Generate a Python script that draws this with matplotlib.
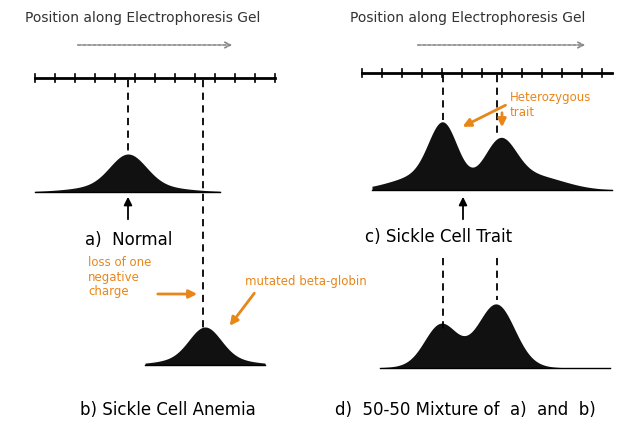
import numpy as np
import matplotlib.pyplot as plt

# peak data: (centre px, height px, width px)
peak_a = [(128, 30, 25), (128, 8, 60)]
peak_b = [(205, 30, 22), (205, 8, 50)]
peak_c = [(443, 55, 20), (500, 42, 22), (425, 15, 45), (530, 15, 45)]
peak_d = [(440, 36, 22), (497, 55, 25), (470, 12, 50)]
ticks_left = np.arange(35, 276, 20)
ticks_right = np.arange(362, 613, 20)

fig = plt.figure(figsize=(6.4, 4.32), dpi=100)
ax = fig.add_axes([0, 0, 1, 1])
ax.set_xlim(0, 640)
ax.set_ylim(432, 0)
ax.axis("off")

orange = "#e8861a"


def peak(parts, base, x0, x1):
    x = np.linspace(x0, x1, 300)
    y = np.zeros_like(x)
    for c, h, w in parts:
        y += h * np.exp(-((x - c) / w) ** 2)
    ax.fill_between(x, base, base - y, color="#111111", lw=0)
    ax.plot([x0, x1], [base, base], color="k", lw=1)


def ruler(x0, x1, y, ticks):
    ax.plot([x0, x1], [y, y], color="k", lw=2)
    for t in ticks:
        ax.plot([t, t], [y - 4, y + 4], color="k", lw=1.2)


for xt, xa0, xa1 in [(25, 75, 235), (350, 415, 588)]:
    ax.text(xt, 18, "Position along Electrophoresis Gel", fontsize=10,
            va="center", color="#333333")
    ax.annotate("", xy=(xa1, 45), xytext=(xa0, 45),
                arrowprops=dict(arrowstyle="->", color="#888888", ls=(0, (2, 1)), lw=1.2))

ruler(35, 275, 78, ticks_left)
ruler(362, 612, 73, ticks_right)

dash = dict(color="k", lw=1.3, ls=(0, (4, 3)))
ax.plot([128, 128], [80, 155], **dash)
ax.plot([203, 203], [80, 328], **dash)
ax.plot([443, 443], [75, 120], **dash)
ax.plot([497, 497], [75, 136], **dash)
ax.plot([443, 443], [258, 330], **dash)
ax.plot([497, 497], [258, 300], **dash)

peak(peak_a, 192, 35, 220)
peak(peak_b, 365, 145, 265)
peak(peak_c, 190, 372, 612)
peak(peak_d, 368, 380, 610)

arr = dict(arrowstyle="-|>", color="k", lw=1.3, mutation_scale=12)
ax.annotate("", xy=(128, 194), xytext=(128, 222), arrowprops=arr)
ax.annotate("", xy=(463, 194), xytext=(463, 222), arrowprops=arr)

ax.text(85, 240, "a)  Normal", fontsize=12, va="center")
ax.text(80, 410, "b) Sickle Cell Anemia", fontsize=12, va="center")
ax.text(365, 237, "c) Sickle Cell Trait", fontsize=12, va="center")
ax.text(335, 410, "d)  50-50 Mixture of  a)  and  b)", fontsize=12, va="center")

oarr = dict(arrowstyle="-|>", color=orange, lw=2, mutation_scale=12)
ax.text(88, 277, "loss of one\nnegative\ncharge", fontsize=8.5, color=orange,
        va="center", linespacing=1.2)
ax.annotate("", xy=(200, 294), xytext=(155, 294), arrowprops=oarr)
ax.text(245, 281, "mutated beta-globin", fontsize=8.5, color=orange, va="center")
ax.annotate("", xy=(228, 328), xytext=(256, 291), arrowprops=oarr)
ax.text(510, 105, "Heterozygous\ntrait", fontsize=8.5, color=orange, va="center",
        linespacing=1.2)
ax.annotate("", xy=(460, 128), xytext=(508, 104), arrowprops=oarr)
ax.annotate("", xy=(502, 130), xytext=(502, 110), arrowprops=oarr)

fig.savefig("out.png", dpi=100)
